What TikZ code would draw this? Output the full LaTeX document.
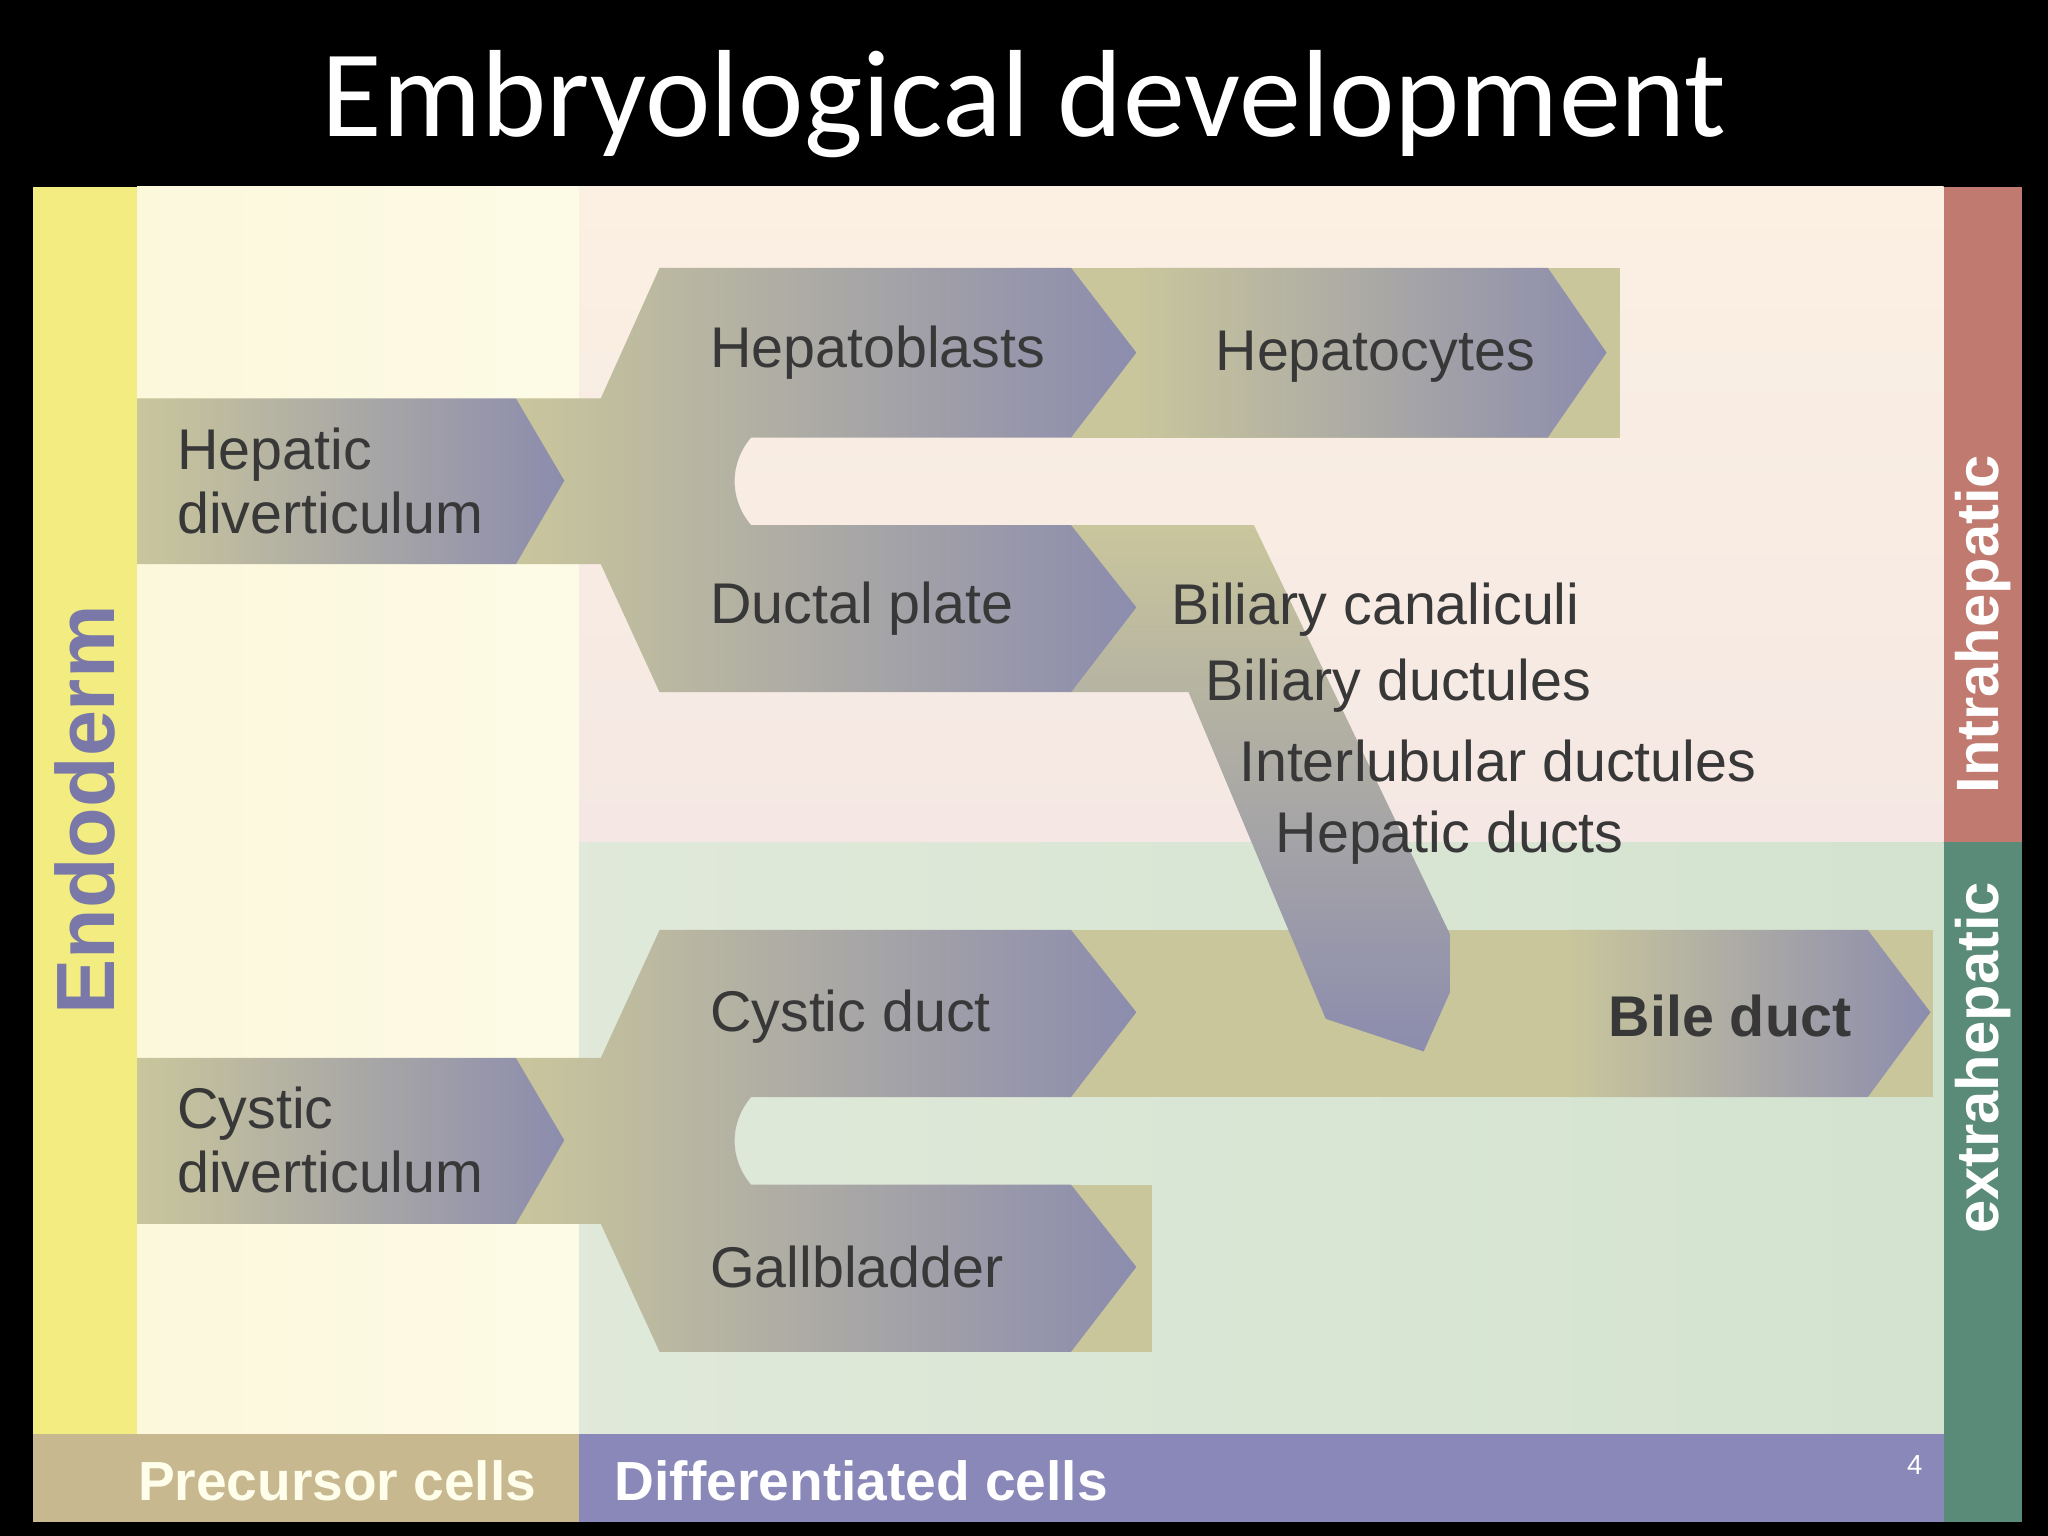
\documentclass[tikz,border=0pt]{standalone}
\usepackage{fontspec}
\setmainfont{Liberation Sans}
\newfontfamily\titlefont{Carlito}
\begin{document}
\begin{tikzpicture}[x=0.01cm,y=-0.01cm,
  lbl/.style={text=black!78,font=\fontsize{12.5}{14}\selectfont,align=left,inner sep=0},
  side/.style={text=white,font=\bfseries\fontsize{13}{15}\selectfont,rotate=90,inner sep=0},
  arr/.style={left color=olv,right color=prp,draw=none},
  band/.style={fill=olv,draw=none}]
\definecolor{olv}{HTML}{C9C69C}
\definecolor{prp}{HTML}{8C8CAE}
\definecolor{tanbar}{HTML}{C8B890}
\definecolor{prpbar}{HTML}{8A88B8}
\definecolor{redbar}{HTML}{C07A70}
\definecolor{grnbar}{HTML}{5A8A78}
\definecolor{endo}{HTML}{7A78A8}
\definecolor{cream}{HTML}{FBF0E2}
\definecolor{pinkbg}{HTML}{F5E8E4}
\definecolor{grn1}{HTML}{E4EBDD}
\definecolor{grn2}{HTML}{D3E3CF}
\definecolor{ylw}{HTML}{FCF8DC}
\definecolor{ystrip}{HTML}{F3EC80}
\fill[black] (0,0) rectangle (1568,1176);
\useasboundingbox (0,0) rectangle (1568,1176);
% panel backgrounds
\shade[top color=cream, bottom color=pinkbg] (105,143) rectangle (1488,645);
\shade[left color=grn1, right color=grn2] (105,645) rectangle (1488,1098);
\shade[left color=ylw, right color=ylw!70!white] (105,143) rectangle (443,1098);
\fill[ystrip] (25,143) rectangle (105,1098);
\fill[tanbar] (25,1098) rectangle (443,1165);
\fill[prpbar] (443,1098) rectangle (1488,1165);
\fill[redbar] (1488,143) rectangle (1548,645);
\fill[grnbar] (1488,645) rectangle (1548,1165);
% title
\node[text=white,font=\titlefont\fontsize{27}{30}\selectfont] (title) at (784,80) {Embryological development};
% bands behind
\fill[band] (820,205) rectangle (1240,335);
\fill[band] (820,712) rectangle (1480,840);
\fill[band] (820,907) rectangle (882,1035);
\shade[top color=olv, bottom color=prp] (820,402) -- (960,402) -- (1110,715) -- (1110,760) -- (1090,805) -- (1015,780) -- (910,530) -- (820,530) -- cycle;
% hepatic
\shade[arr] (395,305) -- (460,305) -- (505,205) -- (820,205) -- (870,270) -- (820,335) -- (575,335) to[bend right=40] (575,402) -- (820,402) -- (870,465) -- (820,530) -- (505,530) -- (460,432) -- (395,432) -- cycle;
\shade[arr] (105,305) -- (395,305) -- (432,368) -- (395,432) -- (105,432) -- cycle;
\shade[arr] (870,205) -- (1185,205) -- (1230,270) -- (1185,335) -- (870,335) -- cycle;
% cystic
\shade[arr] (395,810) -- (460,810) -- (505,712) -- (820,712) -- (870,775) -- (820,840) -- (575,840) to[bend right=40] (575,907) -- (820,907) -- (870,970) -- (820,1035) -- (505,1035) -- (460,937) -- (395,937) -- cycle;
\shade[arr] (105,810) -- (395,810) -- (432,873) -- (395,937) -- (105,937) -- cycle;
\shade[arr] (1200,712) -- (1430,712) -- (1478,775) -- (1430,840) -- (1200,840) -- cycle;
% labels
\node[lbl,anchor=west] (hd) at (135,368) {Hepatic\\diverticulum};
\node[lbl,anchor=west] (hb) at (543,270) {Hepatoblasts};
\node[lbl,anchor=west] (hc) at (930,273) {Hepatocytes};
\node[lbl,anchor=west] (dp) at (543,466) {Ductal plate};
\node[lbl,anchor=west] (bc) at (896,467) {Biliary canaliculi};
\node[lbl,anchor=west] (bd) at (922,525) {Biliary ductules};
\node[lbl,anchor=west] (id) at (948,583) {Interlubular ductules};
\node[lbl,anchor=west] (hdu) at (976,641) {Hepatic ducts};
\node[lbl,anchor=west] (cd) at (135,873) {Cystic\\diverticulum};
\node[lbl,anchor=west] (cy) at (543,778) {Cystic duct};
\node[lbl,anchor=west] (gb) at (543,970) {Gallbladder};
\node[lbl,anchor=east,font=\bfseries\fontsize{12.5}{14}\selectfont] (bile) at (1418,778) {Bile duct};
\node[text=endo,font=\bfseries\fontsize{18}{21}\selectfont,rotate=90,inner sep=0] (endo) at (65,620) {Endoderm};
\node[side] (intra) at (1518,478) {Intrahepatic};
\node[side] (extra) at (1518,810) {extrahepatic};
\node[text=white!92!yellow,font=\bfseries\fontsize{12}{14}\selectfont,anchor=west,inner sep=0] (pc) at (105,1134) {Precursor cells};
\node[text=white,font=\bfseries\fontsize{12}{14}\selectfont,anchor=west,inner sep=0] (dc) at (470,1134) {Differentiated cells};
\node[text=white,font=\fontsize{6}{7}\selectfont] (pg) at (1466,1122) {4};
\end{tikzpicture}
\end{document}
